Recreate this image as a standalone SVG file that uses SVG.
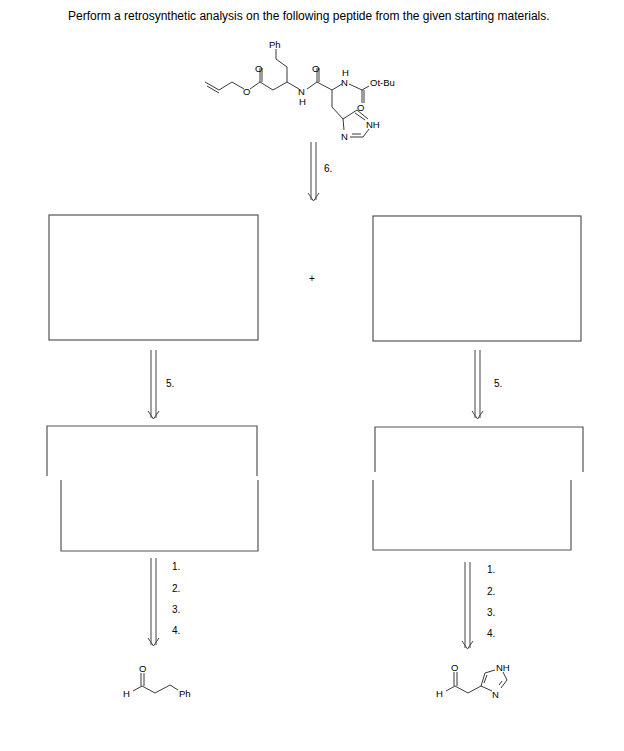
<svg xmlns="http://www.w3.org/2000/svg" width="624" height="751" viewBox="0 0 624 751">
<style>
text{font-family:"Liberation Sans",Arial,sans-serif;fill:#000}
.t{font-size:12px}.a{font-size:9.5px}.l{font-size:10px}
.b{fill:none;stroke:#555;stroke-width:1.2}
.m{fill:none;stroke:#222;stroke-width:0.9}
.ar{fill:none;stroke:#444;stroke-width:1}
</style>
<rect width="624" height="751" fill="#fff"/>
<text class="t" x="68" y="20">Perform a retrosynthetic analysis on the following peptide from the given starting materials.</text>
<g id="target">
<path class="m" d="M205,82 L219,90 L232,82 L244,89 M250,89 L260,82 L273,90 L287,82 L299,89 M307,89 L317,82 L332,90 L342,84 M332,90 L332,107 L343,119 M349,84 L362,90 L369,86 M332,90 M260,82 L260,68 M287,82 L287,67 L276,59 L276,49 M317,82 L317,68 M362,90 L362,103 M343,119 L357,110 L368,119 M343,119 L344,130 M350,137 L363,137 L369,129"/>
<path class="m" d="M207,86 L219,93 M262,82 L262,68 M319,82 L319,68 M364,90 L364,103 M355,113 L365,120 M352,134 L361,134"/>
<text class="a" x="255" y="72">O</text><text class="a" x="243" y="95">O</text>
<text class="a" x="269" y="48">Ph</text>
<text class="a" x="298" y="95">N</text><text class="a" x="299" y="105">H</text>
<text class="a" x="312" y="72">O</text>
<text class="a" x="341" y="86">N</text><text class="a" x="342" y="76">H</text>
<text class="a" x="370" y="86">Ot-Bu</text>
<text class="a" x="357" y="111">O</text>
<text class="a" x="366" y="128">NH</text>
<text class="a" x="341" y="140">N</text>
</g>
<g id="connectors">
<path class="ar" d="M311,142 V200 M316,142 V200 M308,193 L313.5,201 L319,193"/>
<path class="ar" d="M151,350 V418 M156,350 V418 M148,411 L153.5,419 L159,411"/>
<path class="ar" d="M475,350 V418 M480,350 V418 M472,411 L477.5,419 L483,411"/>
<path class="ar" d="M151,558 V645 M156,558 V645 M148,638 L153.5,646 L159,638"/>
<path class="ar" d="M465,562 V648 M470,562 V648 M462,641 L467.5,649 L473,641"/>
</g>
<text class="l" x="324" y="172">6.</text>
<text class="l" x="166" y="387">5.</text>
<text class="l" x="494" y="387">5.</text>
<g class="l"><text x="172" y="570">1.</text><text x="172" y="592">2.</text><text x="172" y="613">3.</text><text x="172" y="634">4.</text>
<text x="487" y="573">1.</text><text x="487" y="595">2.</text><text x="487" y="616">3.</text><text x="487" y="637">4.</text></g>
<text class="l" x="309" y="282">+</text>
<g id="box1"><rect class="b" x="49" y="215" width="209" height="125"/></g>
<g id="box2"><rect class="b" x="373" y="216" width="208" height="125"/></g>
<g id="box3"><path class="b" d="M47,476 V426 H257 V476 M61,480 V551 H258 V480"/></g>
<g id="box4"><path class="b" d="M375,472 V427 H583 V472 M373,480 V550 H571 V480"/></g>
<g id="sm1">
<path class="m" d="M133,691 L142,686 L155,693 L170,685 L178,690 M141,686 V673 M144,686 V673"/>
<text class="a" x="139" y="672">O</text><text class="a" x="123" y="697">H</text><text class="a" x="179" y="697">Ph</text>
</g>
<g id="sm2">
<path class="m" d="M446,691 L455,686 L468,693 L481,686 L485,673 L495,670 M503,672 L507,680 L501,688 M492,691 L481,686 M454,686 V672 M457,686 V672 M484,683 L487,675 M502,681 L499,685"/>
<text class="a" x="451" y="671">O</text><text class="a" x="436" y="697">H</text><text class="a" x="496" y="671">NH</text><text class="a" x="492" y="698">N</text>
</g>
</svg>
